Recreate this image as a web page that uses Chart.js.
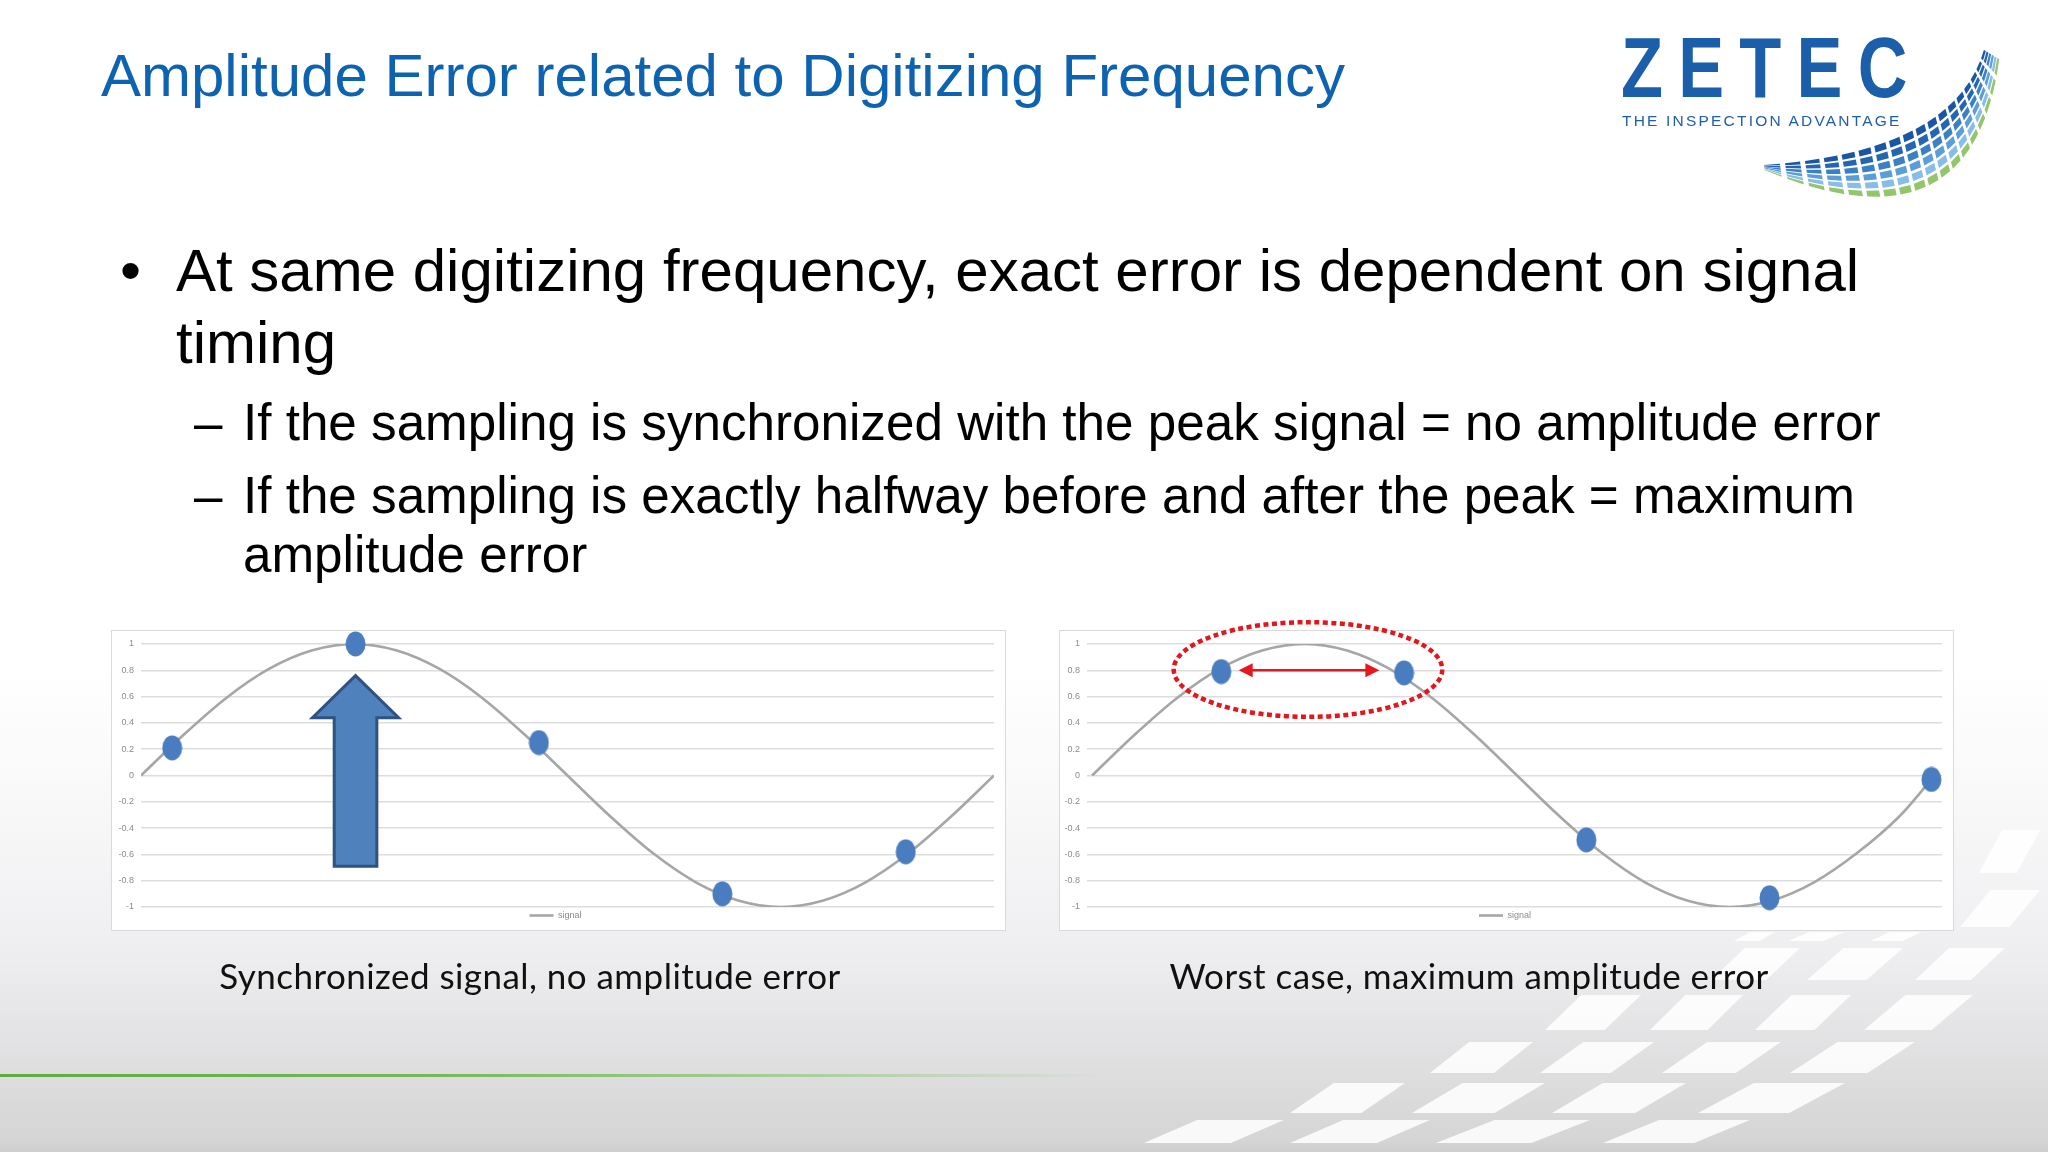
<!DOCTYPE html>
<html><head><meta charset="utf-8">
<script src="https://cdn.jsdelivr.net/npm/chart.js@4.4.1/dist/chart.umd.min.js"></script>
<style>
html,body{margin:0;padding:0;}
body{width:2048px;height:1152px;position:relative;overflow:hidden;font-family:"Liberation Sans",Arial,sans-serif;color:#000;}
#bg{position:absolute;left:0;top:0;z-index:0;}
.t{position:absolute;white-space:nowrap;line-height:1;z-index:3;}
.frame{position:absolute;top:630px;width:893px;height:299px;border:1px solid #dadada;background:#fff;z-index:1;}
.cv{position:absolute;z-index:2;}
.cap{font-family:Lato,"Open Sans",sans-serif;font-size:35px;letter-spacing:0.45px;text-align:center;width:700px;color:#111;}
</style></head><body>
<canvas id="bg" width="2048" height="1152"></canvas>

<div class="t" style="left:101px;top:46px;font-size:60px;color:#0e63b0;">Amplitude Error related to Digitizing Frequency</div>

<div class="t" style="left:1621px;top:24px;font-size:86px;font-weight:bold;color:#1b5fab;letter-spacing:19px;transform:scaleX(0.8);transform-origin:0 0;">ZETEC</div>
<div class="t" style="left:1622px;top:113px;font-size:15.5px;color:#1f5fa9;letter-spacing:2.2px;">THE INSPECTION ADVANTAGE</div>

<div class="t" style="left:120px;top:241px;font-size:60px;">•</div>
<div class="t" style="left:176px;top:241px;font-size:60px;">At same digitizing frequency, exact error is dependent on signal</div>
<div class="t" style="left:176px;top:313px;font-size:60px;">timing</div>
<div class="t" style="left:194px;top:397px;font-size:51.2px;">–</div>
<div class="t" style="left:243px;top:397px;font-size:51.2px;">If the sampling is synchronized with the peak signal = no amplitude error</div>
<div class="t" style="left:194px;top:470px;font-size:51.2px;">–</div>
<div class="t" style="left:243px;top:470px;font-size:51.2px;">If the sampling is exactly halfway before and after the peak = maximum</div>
<div class="t" style="left:243px;top:529px;font-size:51.2px;">amplitude error</div>

<div class="frame" style="left:111px;"></div>
<div class="frame" style="left:1059px;"></div>
<canvas id="c1" class="cv" width="893" height="320" style="left:112px;top:610px;"></canvas>
<canvas id="c2" class="cv" width="893" height="320" style="left:1060px;top:610px;"></canvas>

<div class="t cap" style="left:180px;top:958px;">Synchronized signal, no amplitude error</div>
<div class="t cap" style="left:1119px;top:958px;">Worst case, maximum amplitude error</div>

<div style="position:absolute;left:0;top:1074px;width:1100px;height:3px;z-index:3;background:linear-gradient(to right,#5fab42 0%,#77b85a 40%,rgba(140,200,120,0.6) 75%,rgba(180,220,170,0) 100%);"></div>

<script>
// ---------- data ----------
const yTickLabels = ['-1','-0.8','-0.6','-0.4','-0.2','0','0.2','0.4','0.6','0.8','1'];
const seriesName = 'signal';

const leftCurveX = [0,1,2,3,4,5,6,7,8,9,10,11,12,13,14,15,16,17,18,19,20];
const leftCurveY = [0,0.31,0.59,0.81,0.95,1,0.95,0.81,0.59,0.31,0,-0.31,-0.59,-0.81,-0.95,-1,-0.95,-0.81,-0.59,-0.31,0];
const leftSampleX = [0.73,5.03,9.33,13.63,17.93];
const leftSampleY = [0.21,1.0,0.25,-0.9,-0.58];

const rightCurveX = [0,1,2,3,4,5,6,7,8,9,10,11,12,13,14,15,16,17,18,19,19.75];
const rightCurveY = [0,0.31,0.59,0.81,0.95,1,0.95,0.81,0.59,0.31,0,-0.31,-0.59,-0.81,-0.95,-1,-0.95,-0.81,-0.59,-0.31,-0.03];
const rightSampleX = [3.04,7.34,11.63,15.94,19.75];
const rightSampleY = [0.79,0.78,-0.49,-0.93,-0.03];

// ---------- annotation geometry (value units) ----------
const upArrow = {x:5.03, top:0.76, headBase:0.44, bottom:-0.69, headHalf:1.01, shaftHalf:0.5};
const ring = {cx:5.08, cy:0.806, rx:3.16, ry:0.36};
const span = {x0:3.45, x1:6.76, y:0.8};

// ---------- background ----------
(function(){
  const c = document.getElementById('bg').getContext('2d');
  const g = c.createLinearGradient(0,0,0,1152);
  g.addColorStop(0,'#ffffff'); g.addColorStop(0.58,'#ffffff'); g.addColorStop(0.7,'#f8f8f9');
  g.addColorStop(0.82,'#efeff1'); g.addColorStop(0.99,'#d5d5d6'); g.addColorStop(1,'#cfcfd0');
  c.fillStyle = g; c.fillRect(0,0,2048,1152);
  function tile(y0,y1,xa,xb){ const s=(xb-xa)*0.38, w=(xb-xa)-s;
    c.beginPath(); c.moveTo(xa+s,y0); c.lineTo(xb,y0); c.lineTo(xa+w,y1); c.lineTo(xa,y1); c.closePath(); c.fill(); }
  c.fillStyle = 'rgba(255,255,255,0.85)';
  const rows = [
    [830,873,[[1979,2040]]],
    [890,927,[[1960,2040]]],
    [932,941,[[1734,1775],[1788,1845],[1870,1922]]],
    [948,980,[[1711,1800],[1807,1903],[1915,2005]]],
    [995,1030,[[1545,1641],[1650,1743],[1755,1851],[1864,1973]]],
    [1042,1073,[[1430,1533],[1540,1654],[1662,1781],[1790,1915]]],
    [1083,1113,[[1290,1405],[1412,1545],[1552,1686],[1698,1845]]],
    [1120,1143,[[1144,1284],[1290,1430],[1436,1590],[1603,1750]]]
  ];
  rows.forEach(r=>r[2].forEach(s=>tile(r[0],r[1],s[0],s[1])));
  // logo swoosh
  function bez(a,b,d,t){return [(1-t)*(1-t)*a[0]+2*(1-t)*t*b[0]+t*t*d[0],(1-t)*(1-t)*a[1]+2*(1-t)*t*b[1]+t*t*d[1]];}
  const A=[[1762,165],[1955,150],[1984,48]], B=[[1762,169],[1975,262],[2000,56]];
  const cols=['#1a56a3','#2566b2','#3b80c6','#5a9dd9','#86bde9','#93c56a'];
  const nu=18,nv=6;
  function P(u,v){const a=bez(A[0],A[1],A[2],u),b=bez(B[0],B[1],B[2],u);return [a[0]+(b[0]-a[0])*v,a[1]+(b[1]-a[1])*v];}
  for(let i=0;i<nu;i++){for(let j=0;j<nv;j++){
    const u0=(i+0.1)/nu,u1=(i+0.85)/nu,v0=(j+0.14)/nv,v1=(j+0.86)/nv;
    const p=[P(u0,v0),P(u1,v0),P(u1,v1),P(u0,v1)];
    c.fillStyle=cols[j]; c.beginPath(); c.moveTo(p[0][0],p[0][1]);
    for(let k=1;k<4;k++)c.lineTo(p[k][0],p[k][1]); c.closePath(); c.fill();
  }}
})();

// ---------- marker image ----------
const dot = document.createElement('canvas'); dot.width=21; dot.height=26;
(function(){const d=dot.getContext('2d'); d.fillStyle='#4a7dbf'; d.beginPath(); d.ellipse(10.5,13,10,12.5,0,0,Math.PI*2); d.fill();})();

function toPts(xs,ys){return xs.map((x,i)=>({x:x,y:ys[i]}));}

const leftDeco = {id:'leftDeco', afterDatasetsDraw(ch){
  const c=ch.ctx, xs=ch.scales.x, ys=ch.scales.y, a=upArrow;
  const cx=xs.getPixelForValue(a.x), hh=xs.getPixelForValue(a.x+a.headHalf)-cx, sh=xs.getPixelForValue(a.x+a.shaftHalf)-cx;
  const yt=ys.getPixelForValue(a.top), yh=ys.getPixelForValue(a.headBase), yb=ys.getPixelForValue(a.bottom);
  c.save(); c.beginPath(); c.moveTo(cx,yt); c.lineTo(cx+hh,yh); c.lineTo(cx+sh,yh); c.lineTo(cx+sh,yb);
  c.lineTo(cx-sh,yb); c.lineTo(cx-sh,yh); c.lineTo(cx-hh,yh); c.closePath();
  c.fillStyle='#4f81bd'; c.fill(); c.lineWidth=3; c.strokeStyle='#2f5281'; c.lineJoin='miter'; c.stroke(); c.restore();
}};
const rightDeco = {id:'rightDeco', afterDatasetsDraw(ch){
  const c=ch.ctx, xs=ch.scales.x, ys=ch.scales.y;
  const ex=xs.getPixelForValue(ring.cx), ey=ys.getPixelForValue(ring.cy);
  const rx=xs.getPixelForValue(ring.cx+ring.rx)-ex, ry=ey-ys.getPixelForValue(ring.cy+ring.ry);
  c.save(); c.beginPath(); c.ellipse(ex,ey,rx,ry,0,0,Math.PI*2); c.setLineDash([5,3.5]); c.lineWidth=4.5; c.strokeStyle='#e3161d'; c.stroke();
  c.setLineDash([]);
  const x0=xs.getPixelForValue(span.x0), x1=xs.getPixelForValue(span.x1), y=ys.getPixelForValue(span.y), hl=14, hw=7;
  c.strokeStyle='#e5171f'; c.fillStyle='#e5171f'; c.lineWidth=2.5;
  c.beginPath(); c.moveTo(x0+hl-2,y); c.lineTo(x1-hl+2,y); c.stroke();
  c.beginPath(); c.moveTo(x0,y); c.lineTo(x0+hl,y-hw); c.lineTo(x0+hl,y+hw); c.closePath(); c.fill();
  c.beginPath(); c.moveTo(x1,y); c.lineTo(x1-hl,y-hw); c.lineTo(x1-hl,y+hw); c.closePath(); c.fill();
  c.restore();
}};

function makeChart(id, cx, cy, sx, sy, xMin, axisW, padR, deco){
  return new Chart(document.getElementById(id), {
    type:'line',
    data:{datasets:[
      {label:seriesName, data:toPts(cx,cy), borderColor:'#a6a6a6', backgroundColor:'#a6a6a6', borderWidth:2.6,
       pointRadius:0, cubicInterpolationMode:'monotone', order:2},
      {label:'samples', data:toPts(sx,sy), showLine:false, pointStyle:dot, pointRadius:10, order:1, clip:false}
    ]},
    options:{
      responsive:false, animation:false, devicePixelRatio:1,
      layout:{padding:{top:34,right:padR,bottom:0,left:0}},
      plugins:{
        tooltip:{enabled:false},
        legend:{position:'bottom', labels:{filter:(it)=>it.text===seriesName, usePointStyle:true, pointStyle:'line',
          pointStyleWidth:24, boxHeight:9, padding:4, color:'#8c8c8c', font:{size:9,family:'"Liberation Sans Narrow","Liberation Sans"'}}}
      },
      scales:{
        x:{type:'linear', min:xMin, max:20, display:false},
        y:{min:-1, max:1, afterFit(s){s.width=axisW;},
           ticks:{stepSize:0.2, callback:(v,i)=>yTickLabels[i], color:'#8c8c8c', padding:7,
                  font:{size:9,family:'"Liberation Sans Narrow","Liberation Sans"'}},
           grid:{color:'#dddddd', lineWidth:1.5, drawTicks:false}, border:{display:false}}
      }
    },
    plugins:[deco]
  });
}
makeChart('c1', leftCurveX, leftCurveY, leftSampleX, leftSampleY, 0, 29, 6, leftDeco);
makeChart('c2', rightCurveX, rightCurveY, rightSampleX, rightSampleY, -0.12, 27, 3, rightDeco);
</script>
</body></html>
